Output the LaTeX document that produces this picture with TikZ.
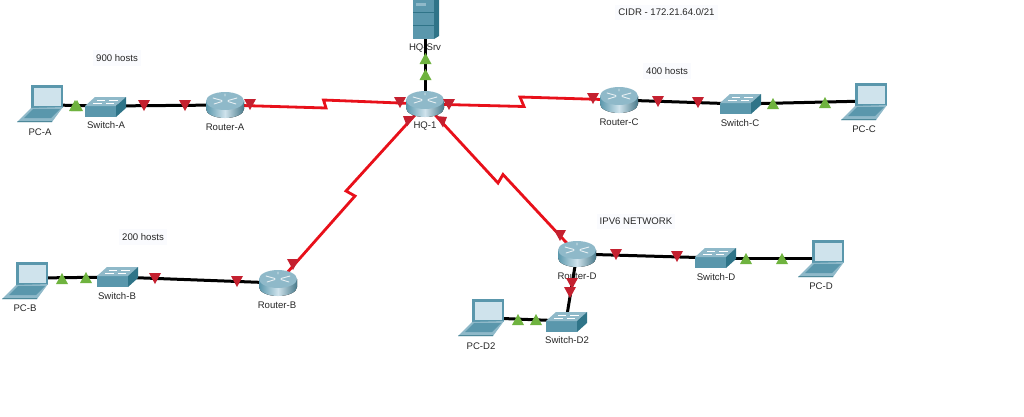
\documentclass[tikz,border=0pt]{standalone}
\usepackage{fontspec}
\setmainfont{Liberation Sans}
\definecolor{wirered}{HTML}{E8101A}
\definecolor{trired}{HTML}{C4202F}
\definecolor{trigreen}{HTML}{6FB33F}
\definecolor{teal1}{HTML}{5A97AC}
\definecolor{teal2}{HTML}{2F7488}
\definecolor{teal3}{HTML}{8FB9C9}
\definecolor{screen}{HTML}{CFE3EC}
\definecolor{notebg}{HTML}{FAFBFE}
\tikzset{
  x=1pt,y=-1pt,
  lbl/.style={inner sep=0pt,font=\fontsize{9.6}{11}\selectfont,text=black!85},
  note/.style={lbl,fill=notebg,inner xsep=3pt,inner ysep=4pt},
  eth/.style={line width=3pt,black},
  ser/.style={line width=2.8pt,wirered,line join=miter},
  pics/redtri/.style={code={\fill[trired] (-6,0)--(6,0)--(0,11)--cycle;}},
  pics/greentri/.style={code={\fill[trigreen] (-6,11)--(6,11)--(0,0)--cycle;}},
  pics/laptop/.style={code={
    \fill[teal1] (0,0) rectangle (32,23);
    \fill[screen] (2.5,2.5) rectangle (29.5,20.5);
    \fill[teal3] (0,23)--(32,22)--(21,37)--(-14,37)--cycle;
    \fill[teal1] (2,24)--(29,24)--(20,33)--(-7,33)--cycle;
    \fill[teal2!85] (-14,37)--(21,37)--(21,36)--(-13,36)--cycle;
  }},
  pics/switchbox/.style={code={
    \fill[teal1] (0,9) rectangle (31,20);
    \fill[teal3] (0,9)--(10,0)--(41,0)--(31,9)--cycle;
    \fill[teal2] (31,9)--(41,0)--(41,11)--(31,20)--cycle;
    \draw[white,line width=.5pt] (12,3)--(20,3) (24,3)--(33,3) (8,6)--(17,6) (21,6)--(29,6);
  }},
  pics/routerbox/.style={code={
    \fill[left color=teal1,right color=teal1!80!black,middle color=screen]
      (-19,-4) -- (-19,4) arc[start angle=180,end angle=0,x radius=19,y radius=9] -- (19,-4) -- cycle;
    \fill[teal3] (0,-4) ellipse[x radius=19,y radius=9];
    \draw[white!85!teal1,line width=.9pt,line cap=round]
      (-12,-7)--(-3,-4.5) (12,-7)--(3,-4.5) (-11,-1)--(-3,-3.5) (11,-1)--(3,-3.5) (0,-11)--(0,-9);
  }},
  pics/serverbox/.style={code={
    \fill[teal1] (0,0) rectangle (21,39);
    \fill[teal2] (21,0)--(26,0)--(26,36)--(21,39)--cycle;
    \fill[teal3] (3,3) rectangle (13,6);
    \draw[teal2,line width=.3pt] (0,12)--(21,12) (0,25)--(21,25);
  }}
}
\begin{document}
\begin{tikzpicture}
\useasboundingbox (0,0) rectangle (1024,416);
% device positions
\coordinate (pca) at (52,105);
\coordinate (swa) at (105,106);
\coordinate (ra) at (225,105);
\coordinate (srv) at (425,20);
\coordinate (hq) at (425,104);
\coordinate (rc) at (619,100);
\coordinate (swc) at (740,104);
\coordinate (pcc) at (868,101);
\coordinate (rb) at (278,283);
\coordinate (swb) at (117,277);
\coordinate (pcb) at (36,278);
\coordinate (rd) at (577,254);
\coordinate (swd) at (715,258);
\coordinate (pcd) at (825,258);
\coordinate (swd2) at (566,321);
\coordinate (pcd2) at (490,318);
% zigzag bends
\coordinate (za1) at (326,108);
\coordinate (za2) at (323.5,100);
\coordinate (zc1) at (524,106.5);
\coordinate (zc2) at (520,97);
\coordinate (zb1) at (355,196);
\coordinate (zb2) at (346,191);
\coordinate (zd1) at (498,183);
\coordinate (zd2) at (503,174.5);
% notes
\node[note] (n900) at (117,58) {900 hosts};
\node[note] (n200) at (143,237) {200 hosts};
\node[note] (n400) at (667,71) {400 hosts};
\node[note] (ncidr) at (666.5,12.5) {CIDR - 172.21.64.0/21};
\node[note] (nipv6) at (636,221.5) {IPV6 NETWORK};
% labels
\node[lbl] (lpca) at (40,132) {PC-A};
\node[lbl] (lswa) at (106,125.5) {Switch-A};
\node[lbl] (lra) at (225,127.5) {Router-A};
\node[lbl] (lsrv) at (425,48.5) {HQ-Srv};
\node[lbl] (lhq) at (425,126.5) {HQ-1};
\node[lbl] (lrc) at (619,122.5) {Router-C};
\node[lbl] (lswc) at (740,123) {Switch-C};
\node[lbl] (lpcc) at (864,129.5) {PC-C};
\node[lbl] (lrb) at (277,305.5) {Router-B};
\node[lbl] (lswb) at (117,296) {Switch-B};
\node[lbl] (lpcb) at (25,308) {PC-B};
\node[lbl] (lrd) at (577,276) {Router-D};
\node[lbl] (lswd) at (716,277) {Switch-D};
\node[lbl] (lpcd) at (821,286) {PC-D};
\node[lbl] (lpcd2) at (481,346) {PC-D2};
\node[lbl] (lswd2) at (567,340.5) {Switch-D2};
% copper links
\draw[eth] (pca)--(swa);
\draw[eth] (swa)--(ra);
\draw[eth] (srv)--(hq);
\draw[eth] (rc)--(swc);
\draw[eth] (swc)--(pcc);
\draw[eth] (pcb)--(swb);
\draw[eth] (swb)--(rb);
\draw[eth] (rd)--(swd);
\draw[eth] (swd)--(pcd);
\draw[eth] (rd)--(swd2);
\draw[eth] (pcd2)--(swd2);
% serial links
\draw[ser] (ra)--(za1)--(za2)--(hq);
\draw[ser] (hq)--(zc1)--(zc2)--(rc);
\draw[ser] (rb)--(zb1)--(zb2)--(hq);
\draw[ser] (hq)--(zd1)--(zd2)--(rd);
% devices
\pic at (31,85) {laptop};
\pic at (855,83) {laptop};
\pic at (16,262) {laptop};
\pic at (812,240) {laptop};
\pic at (472,299) {laptop};
\pic at (85,97) {switchbox};
\pic at (720,94) {switchbox};
\pic at (97,267) {switchbox};
\pic at (695,248) {switchbox};
\pic at (546,312) {switchbox};
\pic at (ra) {routerbox};
\pic at (hq) {routerbox};
\pic at (rc) {routerbox};
\pic at (rb) {routerbox};
\pic at (rd) {routerbox};
\pic at (413,0) {serverbox};
% link lights
\foreach \p in {(144,100),(185,100),(250,99),(400,97),(449,99),(593,93),(658,96),(698,97),(293,259),(237,276),(155,273),(560,230),(616,249),(677,251),(572,278),(570,287)}
  \pic at \p {redtri};
\fill[trired] (403,116)--(415,116)--(407,126.5)--cycle;
\fill[trired] (436,116)--(447,117)--(443,127.5)--cycle;
\foreach \p in {(75,100),(77,100),(425.5,53),(425.5,69),(773,98),(825,97),(62,273),(86,272),(746,253),(782,253),(518,314),(536,314)}
  \pic at \p {greentri};
\end{tikzpicture}
\end{document}
